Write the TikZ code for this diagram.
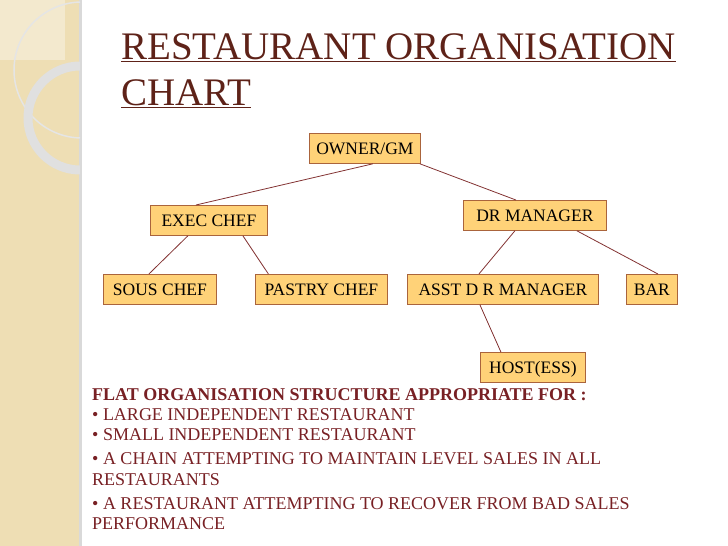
\documentclass[tikz,border=0pt]{standalone}
\usepackage{fontspec}
\setmainfont{Liberation Serif}
\definecolor{titlered}{RGB}{94,34,24}
\definecolor{textred}{RGB}{120,32,36}
\definecolor{boxfill}{RGB}{255,210,120}
\definecolor{boxline}{RGB}{170,100,60}
\definecolor{linered}{RGB}{130,50,50}
\definecolor{sidebeige}{RGB}{238,222,180}
\tikzset{
  post/.style={draw=boxline,fill=boxfill,line width=0.8pt,minimum height=30pt,
    inner xsep=3pt,font=\fontsize{17.5}{17.5}\selectfont,anchor=north west,text depth=0pt},
  link/.style={draw=linered,line width=0.8pt}
}
\begin{document}
\begin{tikzpicture}[x=1pt,y=-1pt]
\useasboundingbox (0,0) rectangle (728,546);
% side panel
\fill[sidebeige] (0,0) rectangle (80,546);
\fill[white,opacity=0.35] (0,0) rectangle (65,60);
\draw[black!15,line width=3pt] (80,0) -- (80,546);
\begin{scope}
\clip (0,0) rectangle (80,546);
\draw[white!80!gray,line width=1.5pt] (82,70) circle (68);
\draw[black!12,line width=9pt] (80,118) circle (52);
\end{scope}
% title
\node[anchor=south west,text=titlered,font=\fontsize{39}{39}\selectfont,inner sep=0pt] (t1) at (121,62) {\underline{RESTAURANT ORGANISATION}};
\node[anchor=south west,text=titlered,font=\fontsize{39}{39}\selectfont,inner sep=0pt] (t2) at (121,108) {\underline{CHART}};
% chart
\node[post,minimum width=111pt] (owner) at (309,133) {OWNER/GM};
\node[post,minimum width=117pt] (exec) at (150,205) {EXEC CHEF};
\node[post,minimum width=143pt] (drm) at (463,200) {DR MANAGER};
\node[post,minimum width=113pt] (sous) at (103,274) {SOUS CHEF};
\node[post,minimum width=132pt] (pastry) at (255,274) {PASTRY CHEF};
\node[post,minimum width=191pt] (asst) at (407,274) {ASST D R MANAGER};
\node[post,minimum width=51pt] (bar) at (626,274) {BAR};
\node[post,minimum width=105pt] (host) at (480,352) {HOST(ESS)};

\draw[link] ([xshift=8pt]owner.south) -- ([xshift=-13pt]exec.north);
\draw[link] ([xshift=55pt]owner.south) -- ([xshift=-19pt]drm.north);
\draw[link] ([xshift=-21pt]exec.south) -- ([xshift=-11pt]sous.north);
\draw[link] ([xshift=34pt]exec.south) -- ([xshift=-53pt]pastry.north);
\draw[link] ([xshift=-20pt]drm.south) -- ([xshift=-24pt]asst.north);
\draw[link] ([xshift=42pt]drm.south) -- ([xshift=6pt]bar.north);
\draw[link] ([xshift=-23pt]asst.south) -- ([xshift=-32pt]host.north);
% notes
\node[anchor=north west,text=textred,align=left,inner sep=0pt,
  font=\fontsize{18}{20}\selectfont] (notes) at (92,388)
  {\textbf{FLAT ORGANISATION STRUCTURE APPROPRIATE FOR :}\\
  • LARGE INDEPENDENT RESTAURANT\\
  • SMALL INDEPENDENT RESTAURANT\\[4pt]
  • A CHAIN ATTEMPTING TO MAINTAIN LEVEL SALES IN ALL\\[1pt]
  RESTAURANTS\\[4pt]
  • A RESTAURANT ATTEMPTING TO RECOVER FROM BAD SALES\\
  PERFORMANCE};
\end{tikzpicture}
\end{document}
